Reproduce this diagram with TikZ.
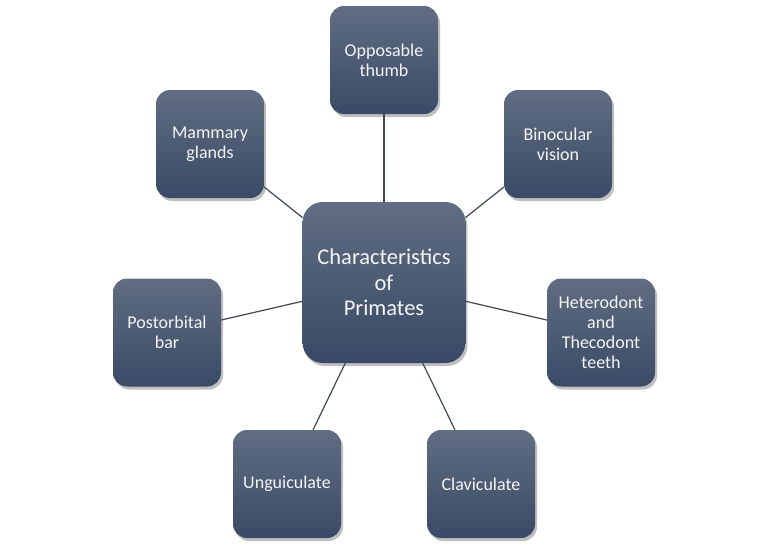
\documentclass[tikz,border=0pt]{standalone}
\usepackage{fontspec}
\setmainfont{Carlito}
\usetikzlibrary{shadows}
\definecolor{boxtop}{RGB}{96,109,130}
\definecolor{boxbot}{RGB}{58,74,102}
\definecolor{linkcol}{RGB}{64,72,86}
\definecolor{txt}{RGB}{245,245,245}
\tikzset{
  boxbase/.style={rounded corners=14pt, top color=boxtop, bottom color=boxbot,
    draw=none, text=txt, align=center,
    drop shadow={shadow xshift=2pt, shadow yshift=-3pt, opacity=0.25, fill=black}},
  small/.style={boxbase, minimum width=108pt, minimum height=108pt, inner sep=2pt,
    font=\fontsize{18}{20}\selectfont, text width=104pt},
  big/.style={boxbase, rounded corners=20pt, minimum width=162pt, minimum height=161pt,
    font=\fontsize{22.5}{25.5}\selectfont, text width=156pt},
  link/.style={draw=linkcol, line width=1.2pt}
}
\begin{document}
\begin{tikzpicture}[x=1pt,y=-1pt]
\useasboundingbox (0,0) rectangle (768,549);
\node[big] (c) at (384,282.5) {Characteristics\\of\\Primates};
\node[small] (opp) at (384,60) {Opposable\\thumb};
\node[small] (bin) at (558,144) {Binocular\\vision};
\node[small] (het) at (601,332.5) {Heterodont\\and\\Thecodont\\teeth};
\node[small] (cla) at (481,484) {Claviculate};
\node[small] (ung) at (287,484) {Unguiculate};
\node[small] (pos) at (167,332.5) {Postorbital\\bar};
\node[small] (mam) at (210,144) {Mammary\\glands};
\foreach \n in {opp,bin,het,cla,ung,pos,mam}{
  \draw[link] (c) -- (\n);
}
\end{tikzpicture}
\end{document}
